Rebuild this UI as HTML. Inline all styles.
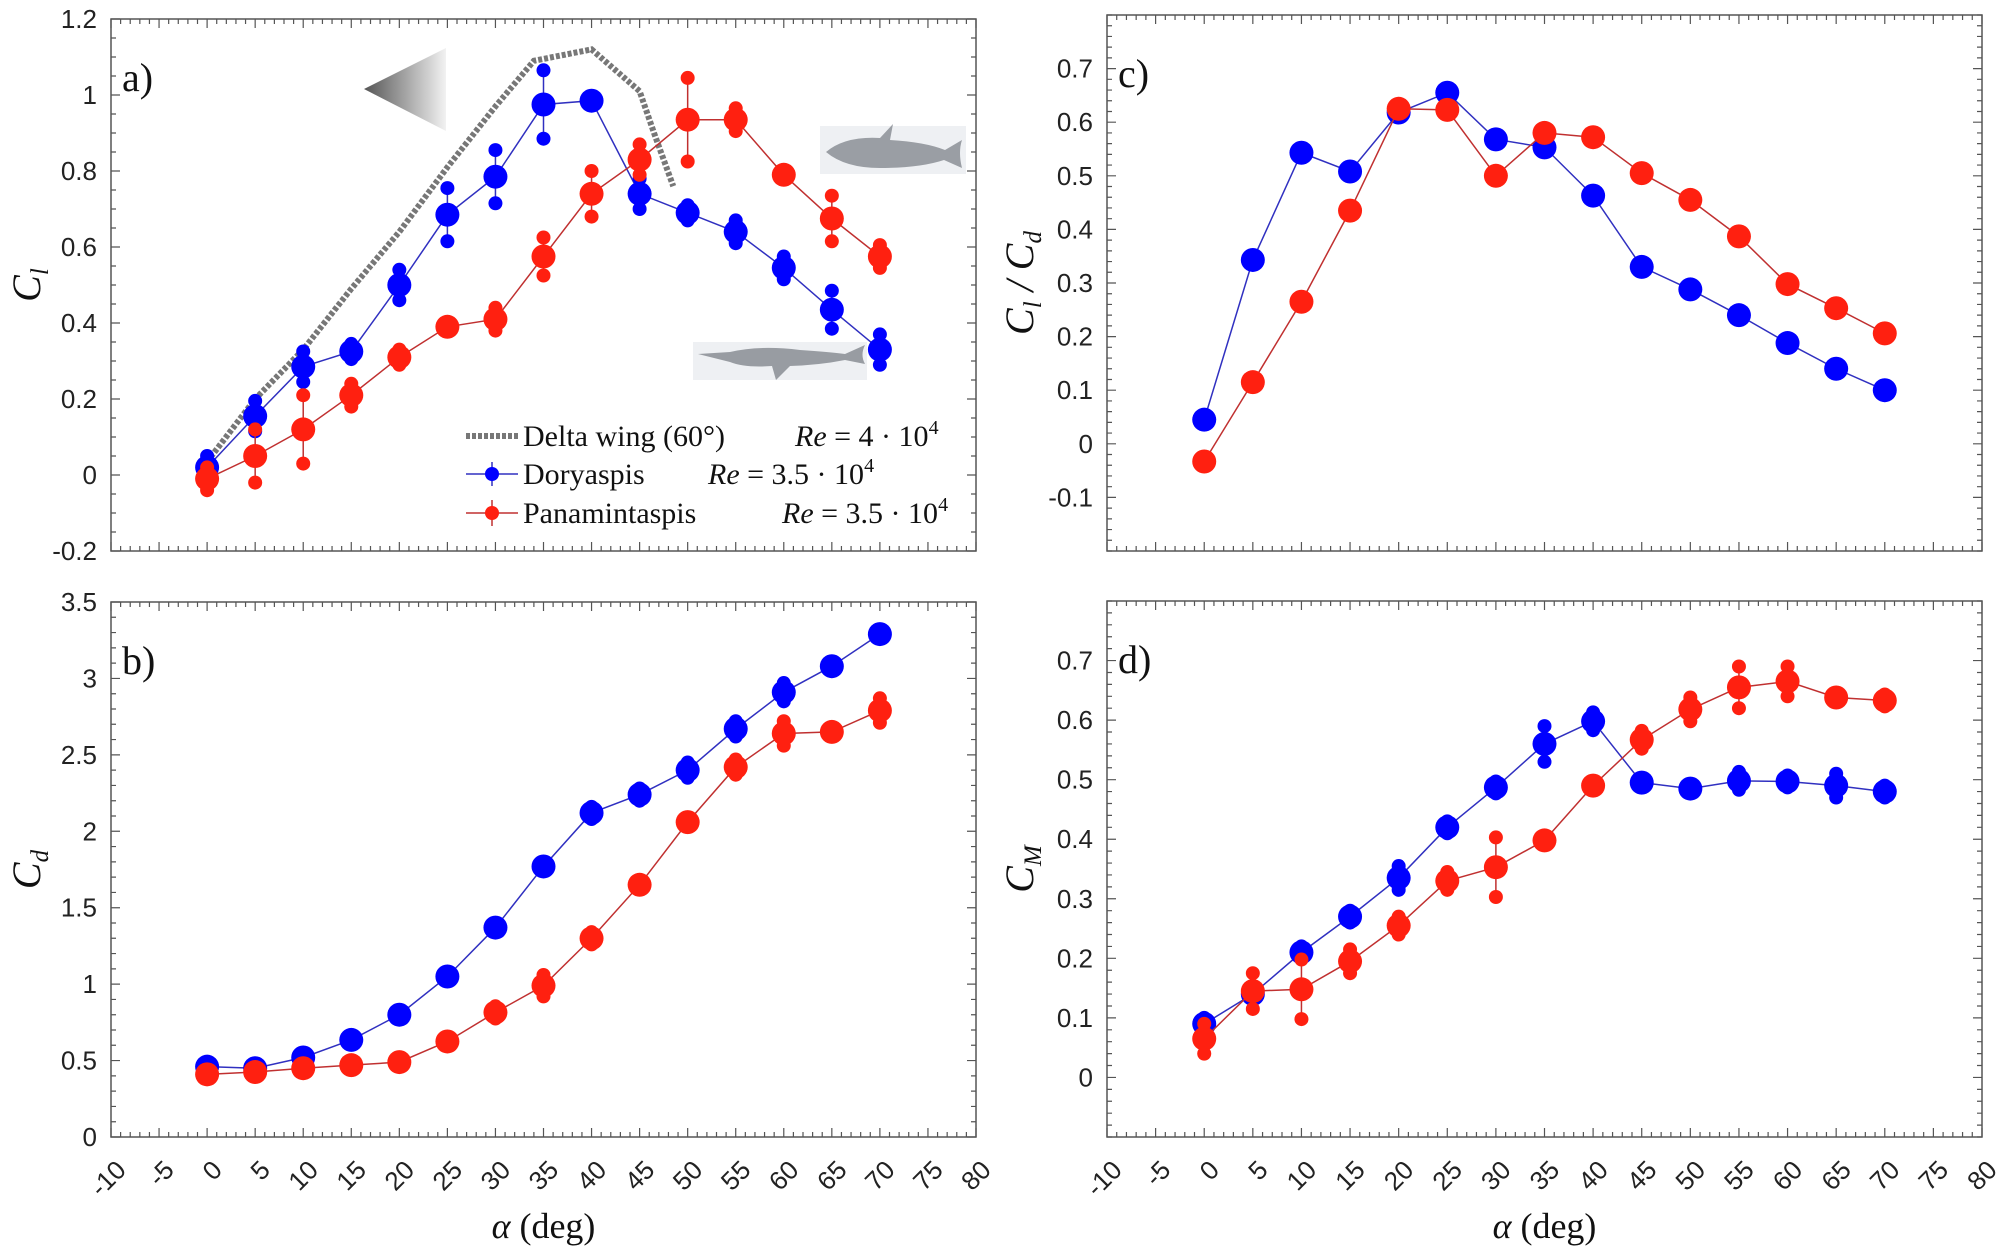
<!DOCTYPE html>
<html><head><meta charset="utf-8"><style>
html,body{margin:0;padding:0;background:#fff;}
svg{display:block;}
.tk{font-family:"Liberation Sans",sans-serif;font-size:26px;fill:#222;}
.ser{font-family:"Liberation Serif",serif;fill:#111;}
</style></head><body>
<svg id="fig" width="2000" height="1248" viewBox="0 0 2000 1248" xmlns="http://www.w3.org/2000/svg">
<defs><linearGradient id="tg" x1="0" x2="1" y1="0" y2="0"><stop offset="0" stop-color="#555"/><stop offset="1" stop-color="#f2f2f2"/></linearGradient></defs>
<polygon points="364,89 446,48 446,131" fill="url(#tg)"/>
<g>
<rect x="820" y="126" width="146" height="48" fill="#eef0f3"/>
<path d="M826,152 Q845,136 880,138 L893,124 L890,140 Q925,142 945,150 L962,140 Q958,152 962,168 L944,160 Q920,168 880,168 Q845,168 826,152 Z" fill="#9a9ea4"/>
</g>
<g>
<rect x="693" y="342" width="174" height="38" fill="#eef0f3"/>
<path d="M698,354 L730,352 Q760,345 800,350 Q830,352 845,354 L865,345 Q860,355 865,364 L845,360 Q820,365 790,366 L776,380 L772,366 Q745,368 730,362 Z" fill="#989ca2"/>
</g>
<g id="plots"></g>
<g>
<line x1="466" y1="436" x2="518" y2="436" stroke="#777" stroke-width="6" stroke-dasharray="4,2"/>
<text class="ser" x="523" y="446" font-size="30">Delta wing (60°)</text>
<text class="ser" x="795" y="446" font-size="30" font-style="italic">Re <tspan font-style="normal">= 4 · 10</tspan><tspan font-style="normal" font-size="20" dy="-12">4</tspan></text>
<line x1="466" y1="474" x2="518" y2="474" stroke="#3030c0" stroke-width="1.5"/>
<line x1="492" y1="462" x2="492" y2="486" stroke="#3030c0" stroke-width="1.5"/>
<circle cx="492" cy="474" r="7" fill="#0000ff"/>
<text class="ser" x="523" y="484" font-size="30">Doryaspis</text>
<text class="ser" x="708" y="484" font-size="30" font-style="italic">Re <tspan font-style="normal">= 3.5 · 10</tspan><tspan font-style="normal" font-size="20" dy="-12">4</tspan></text>
<line x1="466" y1="513" x2="518" y2="513" stroke="#c03030" stroke-width="1.5"/>
<line x1="492" y1="500" x2="492" y2="526" stroke="#c03030" stroke-width="1.5"/>
<circle cx="492" cy="513" r="7" fill="#ff2010"/>
<text class="ser" x="523" y="523" font-size="30">Panamintaspis</text>
<text class="ser" x="782" y="523" font-size="30" font-style="italic">Re <tspan font-style="normal">= 3.5 · 10</tspan><tspan font-style="normal" font-size="20" dy="-12">4</tspan></text>
</g>
</svg>
<script>
const alpha=[0,5,10,15,20,25,30,35,40,45,50,55,60,65,70];
const clBlue=[0.02,0.155,0.285,0.325,0.50,0.685,0.785,0.975,0.985,0.74,0.69,0.64,0.545,0.435,0.33];
const clRed=[-0.01,0.05,0.12,0.21,0.31,0.39,0.41,0.575,0.74,0.83,0.935,0.935,0.79,0.675,0.575];
const clBlueSpread=[0.03,0.04,0.04,0.02,0.04,0.07,0.07,0.09,0,0.04,0.02,0.03,0.03,0.05,0.04];
const clRedSpread=[0.03,0.07,0.09,0.03,0.02,0.01,0.03,0.05,0.06,0.04,0.11,0.03,0,0.06,0.03];
const deltaAlpha=[0,5,10,15,20,25,30,34,40,45,46.5,48.5];
const deltaCl=[0.035,0.2,0.33,0.49,0.64,0.81,0.97,1.09,1.12,1.01,0.9,0.76];
const cdBlue=[0.46,0.45,0.52,0.635,0.80,1.05,1.37,1.77,2.12,2.24,2.40,2.67,2.91,3.08,3.29];
const cdRed=[0.41,0.425,0.45,0.47,0.49,0.625,0.815,0.99,1.30,1.65,2.06,2.42,2.64,2.65,2.79];
const cdBlueSpread=[0.02,0.01,0.03,0.02,0.02,0.02,0.02,0.02,0.04,0.04,0.05,0.05,0.06,0.03,0.03];
const cdRedSpread=[0.02,0.02,0.02,0.02,0.02,0.02,0.04,0.07,0.04,0.02,0.02,0.05,0.08,0.03,0.08];
const ldBlue=[0.045,0.343,0.543,0.508,0.618,0.655,0.568,0.553,0.463,0.33,0.288,0.24,0.188,0.14,0.1];
const ldRed=[-0.033,0.115,0.265,0.435,0.625,0.623,0.5,0.58,0.572,0.505,0.455,0.387,0.298,0.253,0.206];
const cmBlue=[0.09,0.14,0.21,0.27,0.335,0.42,0.487,0.56,0.598,0.495,0.485,0.498,0.497,0.49,0.48];
const cmRed=[0.065,0.145,0.148,0.195,0.255,0.33,0.353,0.398,0.49,0.567,0.618,0.655,0.665,0.638,0.633];
const cmBlueSpread=[0.01,0,0.01,0.01,0.02,0.01,0.01,0.03,0.015,0,0,0.015,0.01,0.02,0.01];
const cmRedSpread=[0.025,0.03,0.05,0.02,0.015,0.015,0.05,0,0,0.015,0.02,0.035,0.025,0,0.01];
const xTicks=[-10,-5,0,5,10,15,20,25,30,35,40,45,50,55,60,65,70,75,80];
const ticksA=[-0.2,0,0.2,0.4,0.6,0.8,1,1.2];
const ticksB=[0,0.5,1,1.5,2,2.5,3,3.5];
const ticksC=[-0.1,0,0.1,0.2,0.3,0.4,0.5,0.6,0.7];
const ticksD=[0,0.1,0.2,0.3,0.4,0.5,0.6,0.7];

const NS="http://www.w3.org/2000/svg";
const root=document.getElementById('plots');
function mk(tag,attrs,parent){const e=document.createElementNS(NS,tag);for(const k in attrs)e.setAttribute(k,attrs[k]);(parent||root).appendChild(e);return e;}
function fmt(v){return String(Math.round(v*10)/10);}

function panel(P){
  const g=mk('g',{});
  
  
  const sx=v=>P.x0+(v+10)/90*(P.x1-P.x0);
  const sy=v=>P.y1-(v-P.ymin)/(P.ymax-P.ymin)*(P.y1-P.y0);
  P.sx=sx;P.sy=sy;
  const fr=mk('rect',{x:P.x0,y:P.y0,width:P.x1-P.x0,height:P.y1-P.y0,fill:'none',stroke:'#555','stroke-width':1.5},g);
  
  
  let d='';
  for(let a=-10;a<=80;a++){const x=sx(a);const L=(a%5===0)?9:5;d+=`M${x},${P.y1}v${-L}M${x},${P.y0}v${L}`;}
  const nm=Math.round((P.ymax-P.ymin)/P.minor);
  for(let i=0;i<=nm;i++){const v=P.ymin+i*P.minor;const y=sy(v);const maj=P.ticks.some(t=>Math.abs(t-v)<1e-6);const L=maj?9:5;d+=`M${P.x0},${y}h${L}M${P.x1},${y}h${-L}`;}
  mk('path',{d:d,stroke:'#555','stroke-width':1.2,fill:'none'},g);
  P.ticks.forEach(t=>{const tx=mk('text',{x:P.x0-14,y:sy(t)+9,'text-anchor':'end',class:'tk'},g);tx.textContent=fmt(t);
    
    });
  if(P.xlabels){xTicks.forEach(t=>{const x=sx(t),y=P.y1+26;const tx=mk('text',{x:x+8,y:y+12,'text-anchor':'end',class:'tk',transform:`rotate(-45 ${x+8} ${y})`},g);tx.textContent=String(t);
    
    });
    const xt=mk('text',{x:(P.x0+P.x1)/2,y:1238,'text-anchor':'middle',class:'ser','font-size':36},g);
    xt.innerHTML='<tspan font-style="italic">α</tspan> (deg)';
    
    }
  const lb=mk('text',{x:P.x0+11,y:P.y0+72,class:'ser','font-size':40},g);lb.textContent=P.letter;
  
  
  const yt=mk('text',{x:0,y:0,'text-anchor':'middle',class:'ser','font-size':40,'font-style':'italic',transform:`translate(${P.ytx},${(P.y0+P.y1)/2}) rotate(-90)`},g);
  yt.innerHTML=P.ytitle;
  
  
  return g;
}
function series(P,g,vals,spread,fill,line,name){
  const sg=mk('g',{},g);
  
  
  const pts=alpha.map((a,i)=>[P.sx(a),P.sy(vals[i])]);
  mk('polyline',{points:pts.map(p=>p.join(',')).join(' '),fill:'none',stroke:line,'stroke-width':1.5},sg);
  alpha.forEach((a,i)=>{
    if(spread&&spread[i]>0){
      const yu=P.sy(vals[i]+spread[i]),yd=P.sy(vals[i]-spread[i]);
      mk('line',{x1:pts[i][0],x2:pts[i][0],y1:yu,y2:yd,stroke:line,'stroke-width':1.5},sg);
      const c1=mk('circle',{cx:pts[i][0],cy:yu,r:7,fill:fill},sg);
      
      
      const c2=mk('circle',{cx:pts[i][0],cy:yd,r:7,fill:fill},sg);
      
      
    }
    const c=mk('circle',{cx:pts[i][0],cy:pts[i][1],r:12,fill:fill},sg);
    
    
  });
}
const BL='#0000ff',BLL='#3030c0',RD='#ff2010',RDL='#c03030';
const A={name:'panel-a-lift',x0:111,x1:976,y0:19,y1:551,ymin:-0.2,ymax:1.2,ticks:ticksA,minor:0.05,letter:'a)',ytx:40,ytitle:'C<tspan font-size="25" dy="8">l</tspan>'};
const gA=panel(A);
const dl=mk('polyline',{points:deltaAlpha.map((a,i)=>A.sx(a)+','+A.sy(deltaCl[i])).join(' '),fill:'none',stroke:'#777','stroke-width':6,'stroke-dasharray':'4,2'},gA);


series(A,gA,clBlue,clBlueSpread,BL,BLL,'doryaspis-series');
series(A,gA,clRed,clRedSpread,RD,RDL,'panamintaspis-series');
const B={name:'panel-b-drag',x0:111,x1:976,y0:602,y1:1137,ymin:0,ymax:3.5,ticks:ticksB,minor:0.1,letter:'b)',ytx:40,ytitle:'C<tspan font-size="25" dy="8">d</tspan>',xlabels:true};
const gB=panel(B);
series(B,gB,cdBlue,cdBlueSpread,BL,BLL,'doryaspis-series');
series(B,gB,cdRed,cdRedSpread,RD,RDL,'panamintaspis-series');
const C={name:'panel-c-lift-drag-ratio',x0:1107,x1:1982,y0:15,y1:551,ymin:-0.2,ymax:0.8,ticks:ticksC,minor:0.02,letter:'c)',ytx:1033,ytitle:'C<tspan font-size="25" dy="8">l</tspan><tspan dy="-8"> / C</tspan><tspan font-size="25" dy="8">d</tspan>'};
const gC=panel(C);
series(C,gC,ldBlue,null,BL,BLL,'doryaspis-series');
series(C,gC,ldRed,null,RD,RDL,'panamintaspis-series');
const D={name:'panel-d-moment',x0:1107,x1:1982,y0:601,y1:1137,ymin:-0.1,ymax:0.8,ticks:ticksD,minor:0.02,letter:'d)',ytx:1033,ytitle:'C<tspan font-size="25" dy="8">M</tspan>',xlabels:true};
const gD=panel(D);
series(D,gD,cmBlue,cmBlueSpread,BL,BLL,'doryaspis-series');
series(D,gD,cmRed,cmRedSpread,RD,RDL,'panamintaspis-series');
</script>
</body></html>
